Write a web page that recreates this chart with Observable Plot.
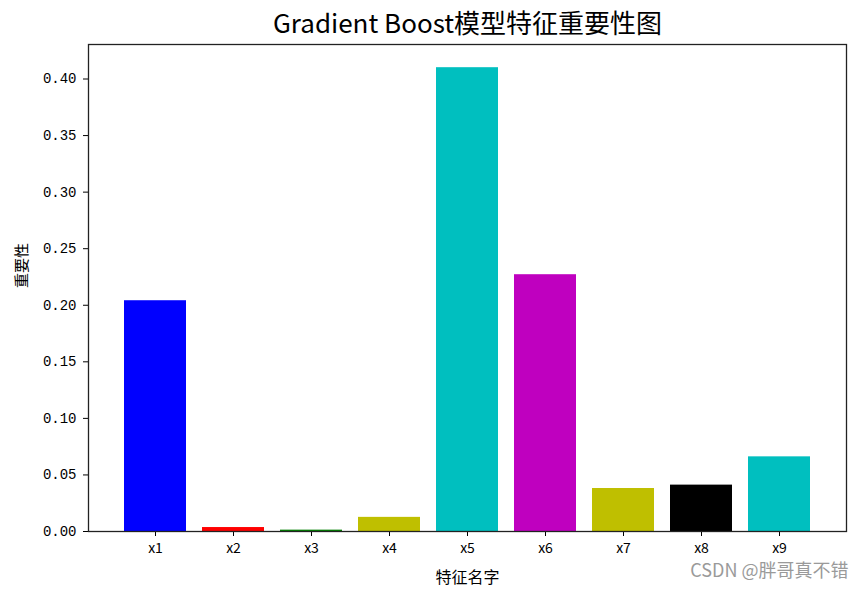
<!DOCTYPE html>
<html>
<head>
<meta charset="utf-8">
<script src="https://cdn.jsdelivr.net/npm/d3@7"></script>
<script src="https://cdn.jsdelivr.net/npm/@observablehq/plot@0.6"></script>
<style>
  html, body { margin: 0; padding: 0; background: #fff; }
</style>
</head>
<body>
<div id="chart"></div>
<script>
const features = ["x1", "x2", "x3", "x4", "x5", "x6", "x7", "x8", "x9"];
const importance = [0.204, 0.0035, 0.0012, 0.0125, 0.41, 0.227, 0.038, 0.041, 0.066];
const barColors = ["#0000ff", "#ff0000", "#008000", "#bfbf00", "#00bfbf", "#bf00bf", "#bfbf00", "#000000", "#00bfbf"];
const yTicks = [0, 0.05, 0.10, 0.15, 0.20, 0.25, 0.30, 0.35, 0.40];
const titleText = "Gradient Boost模型特征重要性图";
const xLabel = "特征名字";
const yLabel = "重要性";
const watermark = "CSDN @胖哥真不错";

const data = features.map((f, i) => ({feature: f, value: importance[i], color: barColors[i]}));

const font = "'Noto Sans CJK SC', 'Noto Sans', sans-serif";

const chart = Plot.plot({
  width: 865,
  height: 592,
  marginLeft: 88,
  marginRight: 19,
  marginTop: 44,
  marginBottom: 61,
  style: {fontFamily: font, fontSize: "14px", background: "#fff", color: "#000"},
  x: {type: "band", domain: features, paddingInner: 0.2, paddingOuter: 0.44, align: 0.5, label: null},
  y: {domain: [0, 0.4305], label: null},
  color: {type: "identity"},
  marks: [
    Plot.barY(data, {x: "feature", y: "value", fill: "color"}),
    Plot.axisY({ticks: yTicks, tickFormat: d3.format(".2f"), tickSize: 5, tickPadding: 7, fontSize: 14, label: null, fontFamily: "'Liberation Mono', 'DejaVu Sans Mono', monospace"}),
    Plot.axisX({tickSize: 5, tickPadding: 7, fontSize: 14, label: null}),
    Plot.frame({stroke: "#222", strokeWidth: 1.3}),
    Plot.text([titleText], {text: d => d, frameAnchor: "top", lineAnchor: "middle", dy: -20, fontSize: 26, fill: "#000"}),
    Plot.text([yLabel], {text: d => d, frameAnchor: "left", lineAnchor: "middle", dx: -66, rotate: -90, fontSize: 15, fill: "#000"}),
    Plot.text([xLabel], {text: d => d, frameAnchor: "bottom", lineAnchor: "middle", dy: 46, fontSize: 16, fill: "#000"}),
    Plot.text([watermark], {text: d => d, frameAnchor: "bottom-right", lineAnchor: "middle", textAnchor: "end", dx: 2, dy: 40, fontSize: 18, fill: "#9a9a9a"})
  ]
});

document.getElementById("chart").appendChild(chart);
</script>
</body>
</html>
